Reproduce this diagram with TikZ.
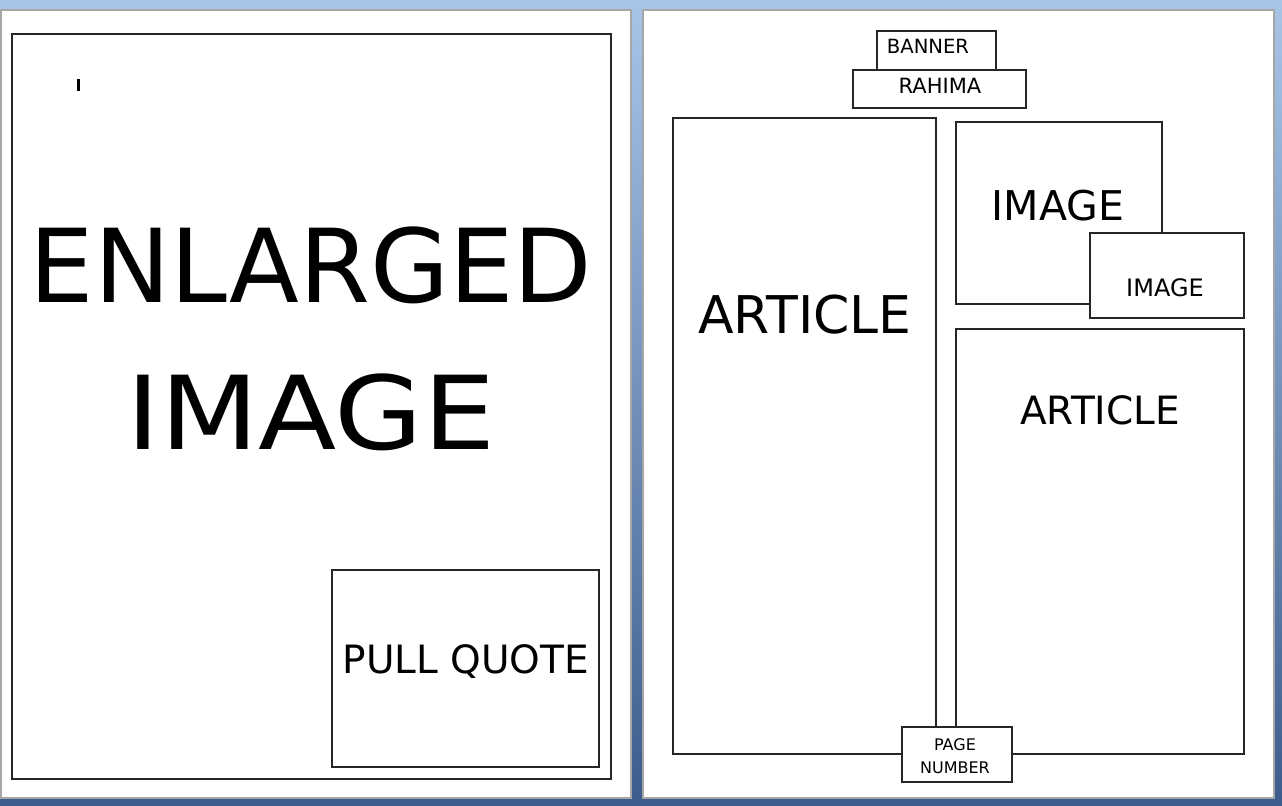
\documentclass[tikz,border=0pt]{standalone}
\usepackage{fontspec}
\setmainfont{DejaVu Sans}
\newcommand{\fs}[1]{\fontsize{#1}{#1}\selectfont}
\begin{document}
\begin{tikzpicture}[x=0.5pt,y=-0.5pt]
\tikzstyle{page}=[draw=black!35,fill=white,line width=0.6pt]
\tikzstyle{box}=[draw=black!85,fill=white,line width=1pt]
\tikzstyle{lbl}=[inner sep=0pt,anchor=base,text=black]
\useasboundingbox (0,0) rectangle (1282,805);
\shade[top color={rgb,255:red,168;green,197;blue,232},bottom color={rgb,255:red,60;green,92;blue,140}] (0,0) rectangle (1282,805);
\draw[page] (1,10) rectangle (631,798);
\draw[page] (643,10) rectangle (1274,798);

\draw[box] (12,34) rectangle (611,779);
\draw[line width=1.5pt] (78,79) -- (78,91);
\node[lbl] (enl) at (311,302) {\fs{51}ENLARGED};
\node[lbl,xscale=1.12] (img) at (311,449) {\fs{51}IMAGE};
\draw[box] (332,570) rectangle (599,767);
\node[lbl] (pq) at (466,673) {\fs{19.5}PULL QUOTE};

\draw[box] (877,31) rectangle (996,70);
\node[lbl] (banner) at (928,53) {\fs{9.8}BANNER};
\draw[box] (853,70) rectangle (1026,108);
\node[lbl] (rahima) at (940,93) {\fs{10.5}RAHIMA};

\draw[box] (673,118) rectangle (936,754);
\node[lbl] (art1) at (805,333) {\fs{26}ARTICLE};
\draw[box] (956,122) rectangle (1162,304);
\node[lbl] (img2) at (1058,220) {\fs{20.5}IMAGE};
\draw[box] (1090,233) rectangle (1244,318);
\node[lbl] (img3) at (1165,296) {\fs{12}IMAGE};
\draw[box] (956,329) rectangle (1244,754);
\node[lbl] (art2) at (1100,424) {\fs{19.5}ARTICLE};

\draw[box] (902,727) rectangle (1012,782);
\node[lbl] (pg) at (955,750) {\fs{8}PAGE};
\node[lbl] (num) at (955,773) {\fs{8}NUMBER};
\end{tikzpicture}
\end{document}
